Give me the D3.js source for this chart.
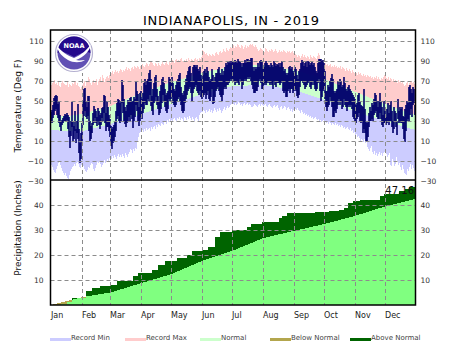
<!DOCTYPE html>
<html>
<head>
<meta charset="utf-8">
<style>
body { margin: 0; background: #fff; }
svg { display: block; font-family: "DejaVu Sans", sans-serif; }
</style>
<script src="https://cdn.jsdelivr.net/npm/d3@7"></script>
</head>
<body>
<svg id="chart" width="465" height="345"></svg>
<script>
// daily values, Jan 1 to Dec 31 (deg F)
var obsHi = [
  39,41,46,53,55,56,55,47,49,36,30,31,33,35,37,36,38,36,34,20,30,49,30,25,40,22,30,47,22,8,18,
  28,50,62,63,50,44,55,55,30,25,28,38,45,42,40,34,43,40,36,38,43,44,56,55,38,50,44,36,
  32,25,22,24,26,30,40,48,52,51,48,50,71,66,52,44,40,46,51,49,53,54,49,50,54,52,70,60,57,44,58,
  60,52,58,68,72,66,70,72,78,81,72,55,62,68,74,76,62,55,50,60,66,72,74,68,62,56,58,60,74,72,
  70,74,68,62,60,66,70,72,76,78,64,58,56,60,66,72,76,80,84,85,78,70,84,86,86,84,86,82,80,84,76,
  72,76,80,82,78,84,80,74,70,72,82,76,70,74,78,78,82,84,78,76,82,76,80,84,88,86,90,88,90,88,
  90,90,88,91,90,88,92,90,90,88,84,88,88,91,88,92,92,90,91,93,93,84,80,84,82,84,88,84,90,91,90,
  82,84,88,90,88,86,86,84,88,86,84,90,88,85,87,86,88,84,88,90,84,80,82,78,76,78,84,85,82,84,80,
  78,84,82,76,72,80,82,88,91,90,85,88,90,84,90,89,86,88,90,86,88,84,80,78,88,92,92,92,90,91,
  88,80,60,60,66,64,70,73,77,72,60,58,60,62,70,66,72,70,64,66,74,68,62,60,64,66,62,60,58,56,54,
  52,46,48,56,58,50,46,45,44,62,42,30,28,30,38,44,40,48,46,52,58,56,50,44,50,58,50,44,36,50,
  40,34,42,48,38,46,50,40,30,44,40,38,30,52,40,44,42,44,35,34,42,46,50,48,64,66,62,58,64,62,46
];
var obsLo = [
  30,28,33,36,40,42,36,33,28,24,20,26,28,30,30,30,31,22,14,3,15,24,10,12,20,8,18,12,-2,-12,-8,
  10,26,35,40,34,32,35,20,10,12,18,26,28,33,28,25,30,26,22,26,33,30,38,28,20,24,24,20,
  14,5,2,8,10,14,20,32,35,30,28,30,48,38,30,27,24,28,30,34,30,36,32,23,30,34,46,40,30,25,30,
  34,32,38,42,48,46,46,52,50,56,45,40,36,48,50,54,46,42,36,38,42,48,56,50,44,40,38,42,52,50,
  52,54,48,46,44,46,50,52,54,50,46,40,38,40,48,52,56,60,62,64,58,50,58,62,64,66,60,58,56,60,54,
  52,54,56,58,52,56,60,52,50,54,62,47,48,54,60,62,64,60,56,54,50,56,62,64,62,66,66,68,70,72,
  70,72,70,66,68,70,68,66,72,70,62,66,70,72,70,72,74,72,74,70,66,62,58,58,60,60,64,70,72,68,62,
  62,66,68,66,68,70,68,66,68,66,62,70,66,64,68,68,68,66,68,70,60,58,60,54,54,60,62,58,62,62,58,
  60,62,60,55,53,56,64,70,70,68,66,62,64,66,68,70,64,62,66,70,66,62,60,62,68,72,60,50,54,60,
  62,52,44,40,44,46,54,50,44,34,34,40,38,42,46,52,46,50,42,44,52,46,44,40,44,46,44,46,42,34,32,
  30,28,32,34,38,30,28,30,18,22,18,10,9,14,24,30,30,32,30,36,38,40,34,32,32,38,32,26,24,28,
  28,26,28,30,26,30,30,24,18,22,30,24,16,32,28,30,28,28,22,12,9,20,30,32,30,36,42,34,46,48,36
];
var recMax = [
  66,68,69,71,67,68,66,69,65,64,68,70,68,67,66,66,69,64,67,66,65,68,67,69,70,66,68,65,64,62,64,
  66,68,70,65,69,70,74,72,68,66,69,71,68,70,72,66,70,72,74,70,76,73,69,72,74,75,73,76,
  76,78,80,77,79,81,79,80,78,80,82,81,79,81,80,82,84,81,83,82,80,83,84,82,85,84,83,85,84,82,85,
  85,87,85,84,86,88,87,85,87,89,90,88,86,85,88,87,85,88,86,85,87,89,87,86,88,90,87,86,89,88,
  89,91,90,88,91,92,90,91,89,92,93,90,89,91,90,92,90,93,91,90,92,91,89,92,93,91,92,90,93,92,94,
  101,100,99,97,98,96,95,97,96,95,97,96,95,98,99,97,96,99,100,98,99,102,100,99,103,101,100,102,104,103,
  104,106,103,105,104,107,106,104,103,106,105,102,104,106,103,105,104,106,107,106,107,105,104,106,104,102,100,101,103,102,101,
  100,99,103,102,100,99,101,100,102,101,99,100,102,100,98,99,101,99,100,99,101,100,99,98,100,99,100,98,99,100,98,
  99,97,96,94,96,95,93,95,97,94,96,94,93,95,94,92,96,94,93,95,94,93,92,95,98,96,92,90,91,88,
  87,88,86,87,85,86,87,84,85,84,86,84,85,83,84,83,85,82,84,83,82,80,83,81,80,82,80,78,81,79,78,
  79,78,76,79,77,78,76,75,77,75,76,74,76,75,74,75,73,74,72,74,73,75,72,74,72,71,73,72,74,76,
  75,73,72,74,71,73,72,70,72,69,71,70,68,71,69,70,68,69,67,65,66,68,69,66,68,69,70,68,69,67,68
];
var recMin = [
  -14,-16,-19,-21,-22,-18,-15,-12,-11,-14,-17,-20,-22,-24,-22,-25,-27,-28,-24,-20,-18,-16,-15,-13,-15,-12,-11,-13,-16,-17,-14,
  -12,-15,-18,-20,-21,-19,-16,-17,-14,-12,-13,-18,-20,-17,-14,-11,-12,-10,-13,-16,-14,-12,-9,-12,-10,-8,-11,-7,
  -6,-8,-5,-7,-4,-6,-8,-5,-3,-6,-4,-6,-3,-5,-7,-2,-4,-6,-3,-1,2,1,-2,2,0,3,2,10,14,18,19,
  20,21,19,22,20,23,21,22,23,20,24,22,24,25,22,26,24,27,26,25,28,27,26,29,30,27,31,29,32,30,
  31,29,32,33,31,30,33,32,34,31,33,32,30,34,33,31,34,32,35,33,31,34,32,30,33,34,32,30,36,38,39,
  39,41,40,38,41,39,40,42,39,41,38,40,43,41,39,42,40,43,41,38,40,42,44,41,43,45,43,44,46,47,
  48,47,46,48,46,47,49,48,46,47,45,47,48,46,47,48,46,47,46,44,44,45,47,46,45,44,46,47,45,47,46,
  45,46,47,45,44,46,47,45,44,43,45,46,44,45,46,43,41,44,45,42,43,45,44,41,43,44,42,40,42,39,41,
  44,42,41,43,41,40,38,41,39,37,38,36,37,35,36,34,35,33,34,32,33,34,32,31,32,30,31,29,30,31,
  29,30,28,29,27,29,28,26,28,27,26,28,26,27,25,26,24,26,25,23,24,22,23,24,22,21,23,20,21,18,19,
  16,17,14,15,13,10,12,11,9,12,8,10,4,2,0,3,5,-1,-3,0,-4,-2,-5,-3,-1,-4,-2,-5,-2,-1,
  -1,-3,-6,-4,-2,-14,-15,-8,-10,-15,-13,-6,-10,-14,-12,-16,-19,-14,-18,-22,-23,-24,-18,-20,-16,-13,-18,-14,-17,-20,-16
];

// normals, read at a few days of the year
var normDay = [0,15,31,59,90,120,151,181,212,243,273,304,334,364];
var normHi  = [36,35,37,45,58,69,78,85,86,81,72,59,47,36];
var normLo  = [21,20,20,27,37,47,57,65,66,61,51,39,30,21];

// precipitation, inches
var prNormDay = [0,31,59,90,120,151,181,212,243,273,304,334,364];
var prNorm    = [0,3.2,5,8.8,12.4,17.7,21.7,26.8,29.7,32.4,35.7,39.5,42.5];
var prDay = [0,4,10,16,21,35,41,49,59,66,82,87,101,107,114,126,136,141,152,157,164,169,181,196,200,211,228,231,236,264,278,288,293,297,302,309,329,333,348,354,358,364];
var prObs = [0,0.1,0.4,1.1,2.8,5.5,6.8,7.7,8.1,9.7,11.5,12.8,14.1,16.1,17.7,18.8,20.1,21.7,22.1,23.3,27.2,29.3,30,31.2,32.4,33.3,34.8,35.5,36.8,37.3,37.7,38.1,39,40.8,41.7,42.1,43.5,44.4,45.5,46.3,47.16,47.16];

var months = ["Jan","Feb","Mar","Apr","May","Jun","Jul","Aug","Sep","Oct","Nov","Dec"];
var monthDay = [0,31,59,90,120,151,181,212,243,273,304,334];
var tempTicks = [110,90,70,50,30,10,-10,-30];
var precipTicks = [40,30,20,10];
var legendNames = ["Record Min","Record Max","Normal","Below Normal","Above Normal"];
var legendColors = ["#ccccff","#ffcccc","#ccffcc","#b3a64d","#006400"];
var legendX = [50,125,200,270,350];

var svg = d3.select("#chart");
var plotL = 50.5, plotR = 415.5, plotT = 30, plotM = 180, plotB = 305;
var days = d3.range(365);

var x = d3.scaleLinear().domain([0,365]).range([plotL, plotR]);
var yT = d3.scaleLinear().domain([-29,121]).range([plotM, plotT]);
var yP = d3.scaleLinear().domain([0,50]).range([plotB, plotM]);

var normHiAt = d3.scaleLinear().domain(normDay).range(normHi);
var normLoAt = d3.scaleLinear().domain(normDay).range(normLo);
var prNormAt = d3.scaleLinear().domain(prNormDay).range(prNorm);
var prObsAt = function (d) { return prObs[d3.bisectRight(prDay, d) - 1]; };

svg.append("clipPath").attr("id", "tclip").append("rect")
  .attr("x", plotL).attr("y", plotT).attr("width", plotR - plotL).attr("height", plotM - plotT);
svg.append("clipPath").attr("id", "pclip").append("rect")
  .attr("x", plotL).attr("y", plotM).attr("width", plotR - plotL).attr("height", plotB - plotM);

function band(y, lo, hi, color, parent) {
  parent.append("path").datum(days)
    .attr("fill", color)
    .attr("shape-rendering", "crispEdges")
    .attr("d", d3.area().curve(d3.curveStepAfter)
      .x(function (d) { return x(d); })
      .y0(function (d) { return y(lo(d)); })
      .y1(function (d) { return y(hi(d)); }));
}

// temperature panel
var t = svg.append("g").attr("clip-path", "url(#tclip)");
band(yT, function (d) { return normHiAt(d); }, function (d) { return recMax[d]; }, "#ffcccc", t);
band(yT, function (d) { return recMin[d]; }, function (d) { return normLoAt(d); }, "#ccccff", t);
band(yT, function (d) { return normLoAt(d); }, function (d) { return normHiAt(d); }, "#ccffcc", t);

t.selectAll("rect.obs").data(days).enter().append("rect")
  .attr("class", "obs")
  .attr("x", function (d) { return x(d) - 0.3; })
  .attr("width", 1.6)
  .attr("y", function (d) { return yT(obsHi[d]); })
  .attr("height", function (d) { return yT(obsLo[d]) - yT(obsHi[d]); })
  .attr("fill", "#00006b");

// precipitation panel
var p = svg.append("g").attr("clip-path", "url(#pclip)");
band(yP, function () { return 0; }, function (d) { return Math.min(prNormAt(d), prObsAt(d)); }, "#80ff80", p);
band(yP, function (d) { return prNormAt(d); }, function (d) { return Math.max(prNormAt(d), prObsAt(d)); }, "#006400", p);
band(yP, function (d) { return prObsAt(d); }, function (d) { return Math.max(prNormAt(d), prObsAt(d)); }, "#b3a64d", p);

// grid goes over the data
var grid = svg.append("g")
  .attr("stroke", "#8c8c8c").attr("stroke-dasharray", "4,3").attr("fill", "none");
grid.selectAll("line.tg").data(tempTicks.slice(0, 7)).enter().append("line")
  .attr("class", "tg")
  .attr("x1", plotL).attr("x2", plotR)
  .attr("y1", function (d) { return Math.round(yT(d)) + 0.5; })
  .attr("y2", function (d) { return Math.round(yT(d)) + 0.5; });
grid.selectAll("line.pg").data(precipTicks).enter().append("line")
  .attr("class", "pg")
  .attr("x1", plotL).attr("x2", plotR)
  .attr("y1", function (d) { return Math.round(yP(d)) + 0.5; })
  .attr("y2", function (d) { return Math.round(yP(d)) + 0.5; });
grid.selectAll("line.vg").data(monthDay.slice(1)).enter().append("line")
  .attr("class", "vg")
  .attr("x1", function (d) { return Math.round(x(d)) + 0.5; })
  .attr("x2", function (d) { return Math.round(x(d)) + 0.5; })
  .attr("y1", plotT).attr("y2", plotB);

// noaa logo
var logo = svg.append("g");
logo.append("rect").attr("x", 55).attr("y", 33).attr("width", 39).attr("height", 40).attr("fill", "#fff");
logo.append("circle").attr("cx", 74).attr("cy", 53).attr("r", 18.5)
  .attr("fill", "#fff").attr("stroke", "#b4b0d0").attr("stroke-width", 1.2);
logo.append("circle").attr("cx", 74).attr("cy", 53).attr("r", 16.5).attr("fill", "#6150b4");
logo.append("path").attr("fill", "#24088c")
  .attr("d", "M57.5,53 A16.5,16.5 0 0 1 90.5,53 C85,50 80,54 74,57 C68,54 63,50 57.5,53 Z");
logo.append("path").attr("fill", "#fff")
  .attr("d", "M57,46 C61,51 68,56 74,58 C81,55 87,50 91,44 C90,51 84,57 76,60 C79,61 82,60 85,60 C81,63 73,63 68,60 C63,57 58,53 57,46 Z");
logo.append("text").attr("x", 74).attr("y", 48).attr("text-anchor", "middle")
  .attr("fill", "#fff").attr("font-size", 6.5).attr("font-weight", "bold").text("NOAA");

// frame
svg.append("rect").attr("x", plotL).attr("y", plotT).attr("width", plotR - plotL).attr("height", plotB - plotT)
  .attr("fill", "none").attr("stroke", "#000").attr("stroke-width", 1.5);
svg.append("line").attr("x1", plotL).attr("x2", plotR).attr("y1", plotM).attr("y2", plotM)
  .attr("stroke", "#000").attr("stroke-width", 1.5);

// axes
function axisStyle(g) {
  g.select(".domain").remove();
  g.selectAll("text").attr("font-family", "DejaVu Sans").attr("fill", "#333").attr("font-size", 7.5);
}
svg.append("g").attr("transform", "translate(" + plotL + ",0)")
  .call(d3.axisLeft(yT).tickValues(tempTicks).tickSize(0).tickPadding(7)).call(axisStyle);
svg.append("g").attr("transform", "translate(" + plotR + ",0)")
  .call(d3.axisRight(yT).tickValues(tempTicks).tickSize(0).tickPadding(5)).call(axisStyle);
svg.append("g").attr("transform", "translate(" + plotL + ",0)")
  .call(d3.axisLeft(yP).tickValues(precipTicks).tickSize(0).tickPadding(7)).call(axisStyle);
svg.append("g").attr("transform", "translate(" + plotR + ",0)")
  .call(d3.axisRight(yP).tickValues(precipTicks).tickSize(0).tickPadding(5)).call(axisStyle);

var monthScale = d3.scaleOrdinal().domain(months).range(monthDay.map(function (d) { return x(d); }));
svg.append("g").attr("transform", "translate(0," + plotB + ")")
  .call(d3.axisBottom(monthScale).tickSize(0).tickPadding(7))
  .call(function (g) {
    g.select(".domain").remove();
    g.selectAll("text").attr("font-family", "DejaVu Sans").attr("fill", "#222")
      .attr("font-size", 8).attr("text-anchor", "start");
  });

// titles
svg.append("text").attr("x", 231).attr("y", 25).attr("text-anchor", "middle")
  .attr("font-size", 13).attr("textLength", 176).attr("fill", "#000").text("INDIANAPOLIS, IN - 2019");
svg.append("text").attr("transform", "translate(21,106) rotate(-90)").attr("text-anchor", "middle")
  .attr("font-size", 9).attr("fill", "#111").text("Temperature (Deg F)");
svg.append("text").attr("transform", "translate(21,228) rotate(-90)").attr("text-anchor", "middle")
  .attr("font-size", 9).attr("fill", "#111").text("Precipitation (Inches)");
svg.append("text").attr("x", 414).attr("y", 194).attr("text-anchor", "end")
  .attr("font-size", 10).attr("fill", "#111").text(prObs[prObs.length - 1].toFixed(2));

// legend
var lg = svg.append("g").selectAll("g").data(legendNames).enter().append("g");
lg.append("rect")
  .attr("x", function (d, i) { return legendX[i]; })
  .attr("y", 338).attr("width", 21).attr("height", 3)
  .attr("fill", function (d, i) { return legendColors[i]; });
lg.append("text")
  .attr("x", function (d, i) { return legendX[i] + 21; })
  .attr("y", 340).attr("font-size", 7).attr("fill", "#444")
  .text(function (d) { return d; });
</script>
</body>
</html>
